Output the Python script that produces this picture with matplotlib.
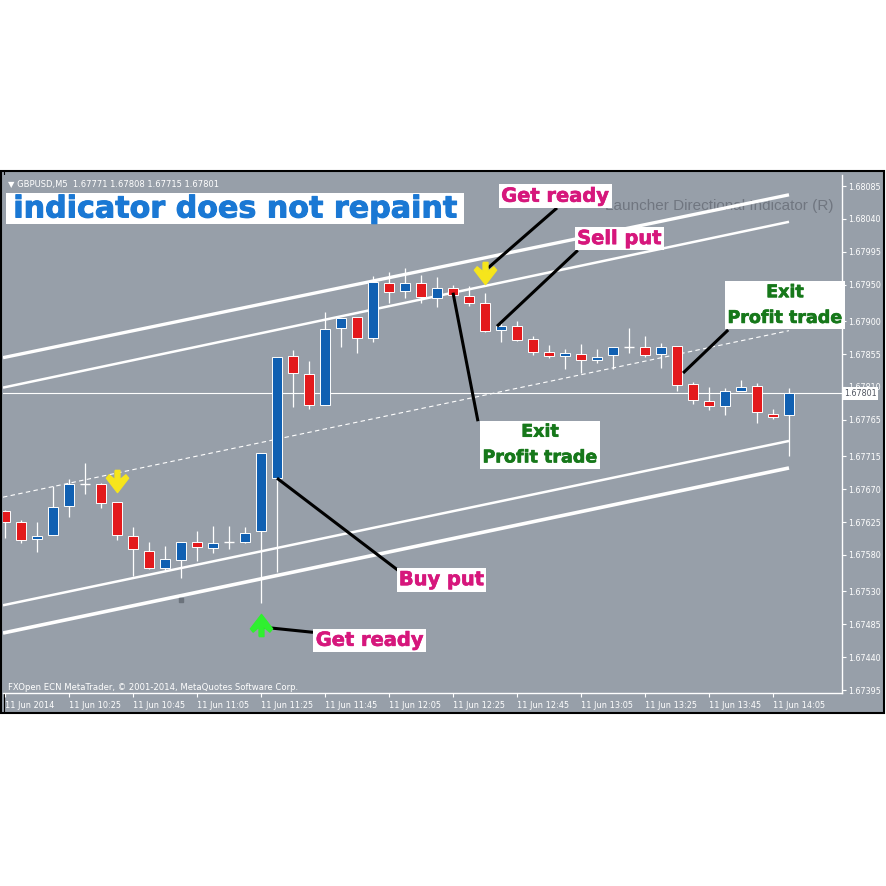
import matplotlib
matplotlib.use("Agg")
import matplotlib.pyplot as plt
import matplotlib.transforms as mtransforms
import matplotlib.patheffects as pe
from matplotlib.patches import Rectangle
from matplotlib.path import Path

W, H = 886, 886

# GBPUSD M5, 11 Jun 2014, bars from 10:05 to 14:10
opens = [1.67640, 1.67625, 1.67602, 1.67607, 1.67647, 1.67677, 1.67677, 1.67652, 1.67606, 1.67585,
         1.67562, 1.67573, 1.67598, 1.67589, 1.67598, 1.67598, 1.67613, 1.67685, 1.67852, 1.67828,
         1.67785, 1.67891, 1.67906, 1.67877, 1.67952, 1.67941, 1.67952, 1.67932, 1.67945, 1.67934,
         1.67925, 1.67888, 1.67893, 1.67876, 1.67858, 1.67852, 1.67855, 1.67847, 1.67854, 1.67865,
         1.67865, 1.67855, 1.67866, 1.67814, 1.67791, 1.67784, 1.67804, 1.67811, 1.67773, 1.67771]
highs = [1.67641, 1.67628, 1.67625, 1.67674, 1.67684, 1.67706, 1.67678, 1.67653, 1.67618, 1.67598,
         1.67592, 1.67598, 1.67613, 1.67620, 1.67620, 1.67618, 1.67720, 1.67851, 1.67860, 1.67845,
         1.67912, 1.67904, 1.67906, 1.67962, 1.67967, 1.67973, 1.67963, 1.67960, 1.67950, 1.67948,
         1.67939, 1.67899, 1.67900, 1.67880, 1.67867, 1.67862, 1.67869, 1.67862, 1.67865, 1.67891,
         1.67880, 1.67870, 1.67866, 1.67817, 1.67810, 1.67808, 1.67819, 1.67815, 1.67780, 1.67808]
lows = [1.67603, 1.67596, 1.67584, 1.67607, 1.67632, 1.67663, 1.67644, 1.67600, 1.67551, 1.67561,
        1.67558, 1.67548, 1.67572, 1.67583, 1.67588, 1.67596, 1.67514, 1.67557, 1.67782, 1.67780,
        1.67785, 1.67865, 1.67856, 1.67871, 1.67925, 1.67932, 1.67925, 1.67919, 1.67934, 1.67921,
        1.67885, 1.67871, 1.67873, 1.67854, 1.67850, 1.67835, 1.67829, 1.67843, 1.67835, 1.67856,
        1.67851, 1.67836, 1.67804, 1.67787, 1.67778, 1.67771, 1.67804, 1.67761, 1.67766, 1.67715]
closes = [1.67625, 1.67600, 1.67606, 1.67646, 1.67677, 1.67677, 1.67651, 1.67607, 1.67588, 1.67562,
          1.67574, 1.67598, 1.67591, 1.67596, 1.67598, 1.67610, 1.67720, 1.67851, 1.67829, 1.67785,
          1.67889, 1.67904, 1.67877, 1.67954, 1.67940, 1.67952, 1.67933, 1.67945, 1.67936, 1.67925,
          1.67887, 1.67893, 1.67874, 1.67858, 1.67852, 1.67856, 1.67847, 1.67851, 1.67865, 1.67865,
          1.67854, 1.67865, 1.67813, 1.67792, 1.67784, 1.67804, 1.67810, 1.67776, 1.67769, 1.67801]

tick_bars = [0, 4, 8, 12, 16, 20, 24, 28, 32, 36, 40, 44, 48]
tick_labels = ['11 Jun 2014', '11 Jun 10:25', '11 Jun 10:45', '11 Jun 11:05', '11 Jun 11:25',
               '11 Jun 11:45', '11 Jun 12:05', '11 Jun 12:25', '11 Jun 12:45', '11 Jun 13:05',
               '11 Jun 13:25', '11 Jun 13:45', '11 Jun 14:05']
price_ticks = [1.68085, 1.68040, 1.67995, 1.67950, 1.67900, 1.67855, 1.67810, 1.67765,
               1.67715, 1.67670, 1.67625, 1.67580, 1.67530, 1.67485, 1.67440, 1.67395]

# directional channel (start / end of each line)
chan_x = [-0.125, 49]
chan_upper_outer = [1.67850, 1.68073]
chan_upper_inner = [1.67809, 1.68036]
chan_middle = [1.67659, 1.67887]
chan_lower_inner = [1.67511, 1.67736]
chan_lower_outer = [1.67473, 1.67699]

sell_arrow_bars = [7, 30]
buy_arrow_bars = [16]
hidden_mark = (11, 1.67518)

PINK = '#d6177c'
GREEN = '#16781a'
# text, colour, text centre (bar, price), pointer start, pointer end
notes = [
    ('Get ready', PINK, (34.4, 1.68071), (34.5, 1.68055), (30.2, 1.67973)),
    ('Sell put', PINK, (38.4, 1.68013), (35.8, 1.67997), (30.75, 1.67893)),
    ('Exit\nProfit trade', GREEN, (48.75, 1.67922), (45.2, 1.67888), (42.38, 1.67829)),
    ('Exit\nProfit trade', GREEN, (33.44, 1.67731), (29.56, 1.67763), (28.0, 1.67939)),
    ('Buy put', PINK, (27.28, 1.67546), (24.56, 1.67559), (17.0, 1.67685)),
    ('Get ready', PINK, (22.81, 1.67463), (19.25, 1.67474), (16.13, 1.67481)),
]

BG = '#979fa9'
BLUE = '#1060b2'
RED = '#e3191c'


def px(x, y):
    return x / W, 1 - y / H


fig = plt.figure(figsize=(W / 100, H / 100), dpi=100)
fig.patch.set_facecolor('white')
fig.patches.append(Rectangle(px(1, 713), 883 / W, 542 / H, transform=fig.transFigure,
                             facecolor=BG, edgecolor='black', lw=1.5, zorder=-2))
fig.add_artist(plt.Line2D([4 / W, 4 / W], [1 - 712 / H, 1 - 172 / H], color='black', lw=0.8,
                          zorder=-1))

ax = fig.add_axes([3 / W, 1 - 693 / H, 839 / W, 518 / H])
ax.set_facecolor(BG)
ax.set_xlim(-0.125, 52.3125)
ax.set_ylim(1.673909, 1.681001)
for s in ['top', 'left']:
    ax.spines[s].set_visible(False)
for s in ['right', 'bottom']:
    ax.spines[s].set_color('white')
    ax.spines[s].set_linewidth(1)

ax.yaxis.tick_right()
ax.set_yticks(price_ticks)
ax.set_yticklabels([f'{p:.5f}' for p in price_ticks])
ax.tick_params(axis='y', colors='white', length=3, width=0.8, pad=1.5, labelsize=5.8)
ax.set_xticks(tick_bars)
ax.set_xticklabels(tick_labels, ha='left')
ax.tick_params(axis='x', colors='white', length=3, width=0.8, pad=2.5, labelsize=5.9)

# channel
for line, lw in [(chan_upper_outer, 2.4), (chan_upper_inner, 1.8),
                 (chan_lower_inner, 1.8), (chan_lower_outer, 2.6)]:
    ax.plot(chan_x, line, color='white', lw=lw, zorder=3, solid_capstyle='butt')
ax.plot(chan_x, chan_middle, color='white', lw=0.8, ls=(0, (4, 3)), zorder=3)

# current price
ax.axhline(closes[-1], color='white', lw=0.8, zorder=2)

# candles
bars = list(range(len(opens)))
ax.vlines(bars, lows, highs, color='white', lw=0.9, zorder=4)
for i in bars:
    o, c = opens[i], closes[i]
    if c == o:
        ax.hlines(o, i - 0.3, i + 0.3, color='white', lw=1.0, zorder=5)
        continue
    col = BLUE if c > o else RED
    ax.bar(i, abs(c - o), bottom=min(o, c), width=0.62, color=col,
           edgecolor='white', linewidth=0.7, zorder=5)

# signal arrows
down = Path([(-0.22, 1.0), (0.22, 1.0), (0.22, 0.15), (0.75, 0.6), (1.0, 0.3), (0.0, -1.0),
             (-1.0, 0.3), (-0.75, 0.6), (-0.22, 0.15), (-0.22, 1.0)])
up = Path([(x, -y) for x, y in down.vertices])
above = mtransforms.offset_copy(ax.transData, fig=fig, x=0, y=14.5, units='points')
below = mtransforms.offset_copy(ax.transData, fig=fig, x=0, y=-16, units='points')
ax.plot(sell_arrow_bars, [highs[i] for i in sell_arrow_bars], ls='none', marker=down, ms=16,
        color='#f6e51c', mec='#f6e51c', transform=above, zorder=7)
ax.plot(buy_arrow_bars, [lows[i] for i in buy_arrow_bars], ls='none', marker=up, ms=16,
        color='#2ff02f', mec='#2ff02f', transform=below, zorder=7)
ax.plot([hidden_mark[0]], [hidden_mark[1]], ls='none', marker='s', ms=3, color='#6c737c', zorder=3)

# notes with pointers
for text, col, (tx, ty), (sx, sy), (ex, ey) in notes:
    ax.plot([sx, ex], [sy, ey], color='black', lw=2.2, zorder=6, solid_capstyle='butt')
    ax.text(tx, ty, text, color=col, ha='center', va='center', fontsize=14.0 if col == PINK else 12.6,
            fontweight='bold', family='DejaVu Sans', linespacing=1.55, zorder=8,
            path_effects=[pe.withStroke(linewidth=0.45, foreground=col)],
            bbox=dict(boxstyle='square,pad=0.12', fc='white', ec='none'))

# window texts
ax.text(*px(605, 206), 'Launcher Directional Indicator (R)', transform=fig.transFigure,
        color='#707680', fontsize=11, family='Liberation Sans', va='center', ha='left', zorder=1)
ax.text(*px(8, 184), '\u25bc GBPUSD,M5  ' + ' '.join(f'{v:.5f}' for v in
        (opens[-1], highs[-1], lows[-1], closes[-1])), transform=fig.transFigure,
        color='white', fontsize=6.0, va='center', ha='left', zorder=9)
ax.text(*px(8, 687), 'FXOpen ECN MetaTrader, \u00a9 2001-2014, MetaQuotes Software Corp.',
        transform=fig.transFigure, color='white', fontsize=6.1, va='center', ha='left', zorder=9)
fig.patches.append(Rectangle(px(6, 224), 458 / W, 31 / H, transform=fig.transFigure,
                             facecolor='white', edgecolor='none', zorder=5))
fig.text(*px(235, 209), 'indicator does not repaint', color='#1a78d4', fontsize=21.7,
         fontweight='bold', family='DejaVu Sans', ha='center', va='center', zorder=6,
         path_effects=[pe.withStroke(linewidth=0.7, foreground='#1a78d4')])

ax.annotate(f'{closes[-1]:.5f}', xy=(1, closes[-1]), xycoords=ax.get_yaxis_transform(),
            xytext=(1.5, 0), textcoords='offset points', va='center', ha='left', fontsize=5.8,
            color='#505560', annotation_clip=False, zorder=10,
            bbox=dict(boxstyle='square,pad=0.2', fc='white', ec='none'))

fig.savefig('out.png', dpi=100, facecolor='white')
